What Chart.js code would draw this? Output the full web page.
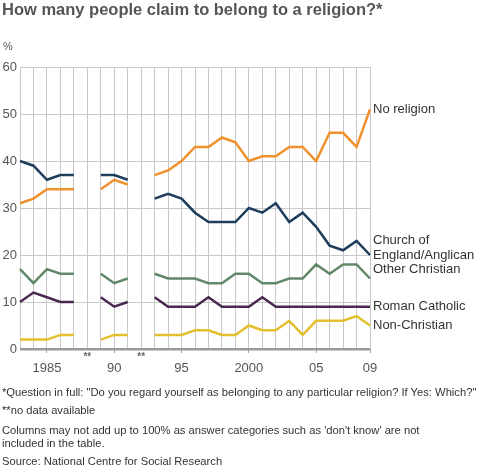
<!DOCTYPE html>
<html><head><meta charset="utf-8">
<script src="https://cdn.jsdelivr.net/npm/chart.js@4"></script>
<style>
html,body{margin:0;padding:0;background:#fff;}
#wrap{position:relative;width:480px;height:470px;overflow:hidden;font-family:"Liberation Sans",Arial,sans-serif;}
canvas{position:absolute;left:0;top:0;}
.t{position:absolute;white-space:nowrap;color:#333;}
</style></head><body>
<div id="wrap">
<canvas id="c" width="480" height="470"></canvas>
<div class="t" style="left:2px;top:0px;font-size:16.5px;font-weight:bold;color:#555;">How many people claim to belong to a religion?*</div>
<div class="t" style="left:3px;top:40px;font-size:11px;color:#555;">%</div>
<div class="t" style="left:2px;top:386px;font-size:11.2px;">*Question in full: "Do you regard yourself as belonging to any particular religion? If Yes: Which?"</div>
<div class="t" style="left:2px;top:404px;font-size:11.2px;">**no data available</div>
<div class="t" style="left:2px;top:424px;font-size:11.2px;line-height:12.5px;">Columns may not add up to 100% as answer categories such as 'don't know' are not<br>included in the table.</div>
<div class="t" style="left:2px;top:455px;font-size:11.2px;">Source: National Centre for Social Research</div>
</div>
<script>
const years = [1983,1984,1985,1986,1987,1988,1989,1990,1991,1992,1993,1994,1995,1996,1997,1998,1999,2000,2001,2002,2003,2004,2005,2006,2007,2008,2009];
const tickLabels = {1985:'1985',1990:'90',1995:'95',2000:'2000',2005:'05',2009:'09'};
const noReligion = [31,32,34,34,34,null,34,36,35,null,37,38,40,43,43,45,44,40,41,41,43,43,40,46,46,43,51];
const churchOfEngland = [40,39,36,37,37,null,37,37,36,null,32,33,32,29,27,27,27,30,29,31,27,29,26,22,21,23,20];
const otherChristian = [17,14,17,16,16,null,16,14,15,null,16,15,15,15,14,14,16,16,14,14,15,15,18,16,18,18,15];
const romanCatholic = [10,12,11,10,10,null,11,9,10,null,11,9,9,9,11,9,9,9,11,9,9,9,9,9,9,9,9];
const nonChristian = [2,2,2,3,3,null,2,3,3,null,3,3,3,4,4,3,3,5,4,4,6,3,6,6,6,7,5];
const seriesNames = [['No religion'],['Church of','England/Anglican'],['Other Christian'],['Roman Catholic'],['Non-Christian']];

const colors = ['#f0912d','#1e3d5c','#62886a','#4a2950','#e4bf2c'];
const labelDy = [0,0,-9,0,0];
const allData = [noReligion,churchOfEngland,otherChristian,romanCatholic,nonChristian];

const endLabels = {
  id:'endLabels',
  afterDraw(chart){
    const ctx = chart.ctx, y = chart.scales.y, x = chart.scales.x;
    ctx.save();
    ctx.font = '13px "Liberation Sans", Arial, sans-serif';
    ctx.fillStyle = '#333';
    ctx.textBaseline = 'middle';
    ctx.textAlign = 'left';
    chart.data.datasets.forEach((ds,i)=>{
      const v = ds.data[ds.data.length-1];
      const py = y.getPixelForValue(v) + labelDy[i];
      const lines = seriesNames[i];
      lines.forEach((ln,j)=>{
        ctx.fillText(ln, chart.chartArea.right + 3, py - (lines.length-1-j)*14.5);
      });
    });
    ctx.font = 'bold 10px "Liberation Sans", Arial, sans-serif';
    ctx.fillStyle = '#666';
    ctx.textAlign = 'center';
    years.forEach((yr,i)=>{
      if (allData.every(a=>a[i]===null)) {
        ctx.fillText('**', x.getPixelForValue(i), chart.chartArea.bottom + 8);
      }
    });
    ctx.restore();
  }
};

new Chart(document.getElementById('c'), {
  type:'line',
  data:{
    labels: years.map(String),
    datasets: allData.map((d,i)=>({
      label: seriesNames[i].join(' '),
      data: d,
      borderColor: colors[i],
      backgroundColor: colors[i],
      borderWidth: 2.5,
      pointRadius: 0,
      tension: 0,
      spanGaps: false,
      borderJoinStyle: 'miter'
    }))
  },
  options:{
    responsive:false,
    animation:false,
    devicePixelRatio:1,
    layout:{padding:{top:67,right:110,left:0,bottom:0}},
    plugins:{legend:{display:false},tooltip:{enabled:false}},
    scales:{
      x:{
        offset:false,
        border:{display:false},
        grid:{color:'#c8c8c8',lineWidth:1,drawTicks:true,tickLength:4,
          tickColor:(c)=> tickLabels[years[c.index]] ? '#aaa' : 'rgba(0,0,0,0)'},
        ticks:{autoSkip:false,maxRotation:0,padding:8,color:'#555',
          font:{size:13,family:'"Liberation Sans", Arial, sans-serif'},
          callback:(v,i)=> tickLabels[years[i]] || ''},
        afterFit:(s)=>{ s.height = 470 - 349; }
      },
      y:{
        min:0,max:60,
        border:{display:false},
        grid:{drawTicks:false,
          color:(c)=> c.tick.value===0 ? '#999' : '#c8c8c8',
          lineWidth:(c)=> c.tick.value===0 ? 2.5 : 1},
        ticks:{stepSize:10,padding:3,color:'#555',
          font:{size:13,family:'"Liberation Sans", Arial, sans-serif'}},
        afterFit:(s)=>{ s.width = 20; }
      }
    }
  },
  plugins:[endLabels]
});
</script>
</body></html>
